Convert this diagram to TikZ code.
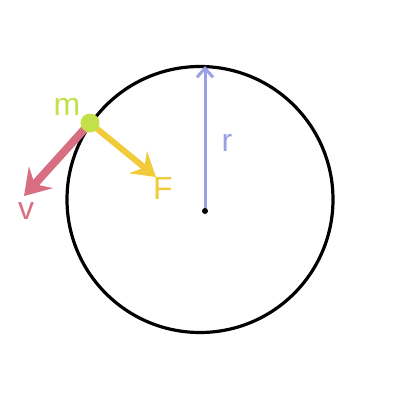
\documentclass[tikz,border=0pt]{standalone}
\usepackage{fontspec}
\setmainfont{Liberation Sans}
\usetikzlibrary{arrows.meta}
\definecolor{vred}{HTML}{D86E82}
\definecolor{fyel}{HTML}{F2CB3A}
\definecolor{mgreen}{HTML}{C2E04A}
\definecolor{rblue}{HTML}{98A0E6}
\begin{document}
\begin{tikzpicture}[x=1pt,y=-1pt,
  lbl/.style={font=\fontsize{32}{32}\selectfont, inner sep=0pt},
  vec/.style={line cap=round}]
\useasboundingbox (0,0) rectangle (400,400);
\fill[white] (0,0) rectangle (400,400);
\draw[line width=3.2pt] (200,199.5) circle (133);
\coordinate (O) at (205,211);
\coordinate (T) at (205,66);
\coordinate (V) at (24,196);
\coordinate (Fp) at (156,177);
\node[circle, fill=mgreen, minimum size=18pt, inner sep=0pt] (M) at (90,123) {};
\draw[vred, line width=8pt, -{Stealth[length=25pt,width=32pt,inset=9pt]}] (M.center) -- (V);
\draw[fyel, line width=6pt, -{Stealth[length=23pt,width=28pt,inset=8pt]}] (M.center) -- (Fp);
\fill[mgreen] (M) circle (9.5);
\draw[rblue, line width=3pt, -{Straight Barb[length=9pt,width=16pt]}] (O) -- (T);
\fill[black] (O) circle (3);
\node[lbl, text=mgreen] (lm) at (67,107) {m};
\node[lbl, text=fyel] (lF) at (163,188) {F};
\node[lbl, text=vred] (lv) at (26,211) {v};
\node[lbl, text=rblue] (lr) at (227,143) {r};
\end{tikzpicture}
\end{document}
